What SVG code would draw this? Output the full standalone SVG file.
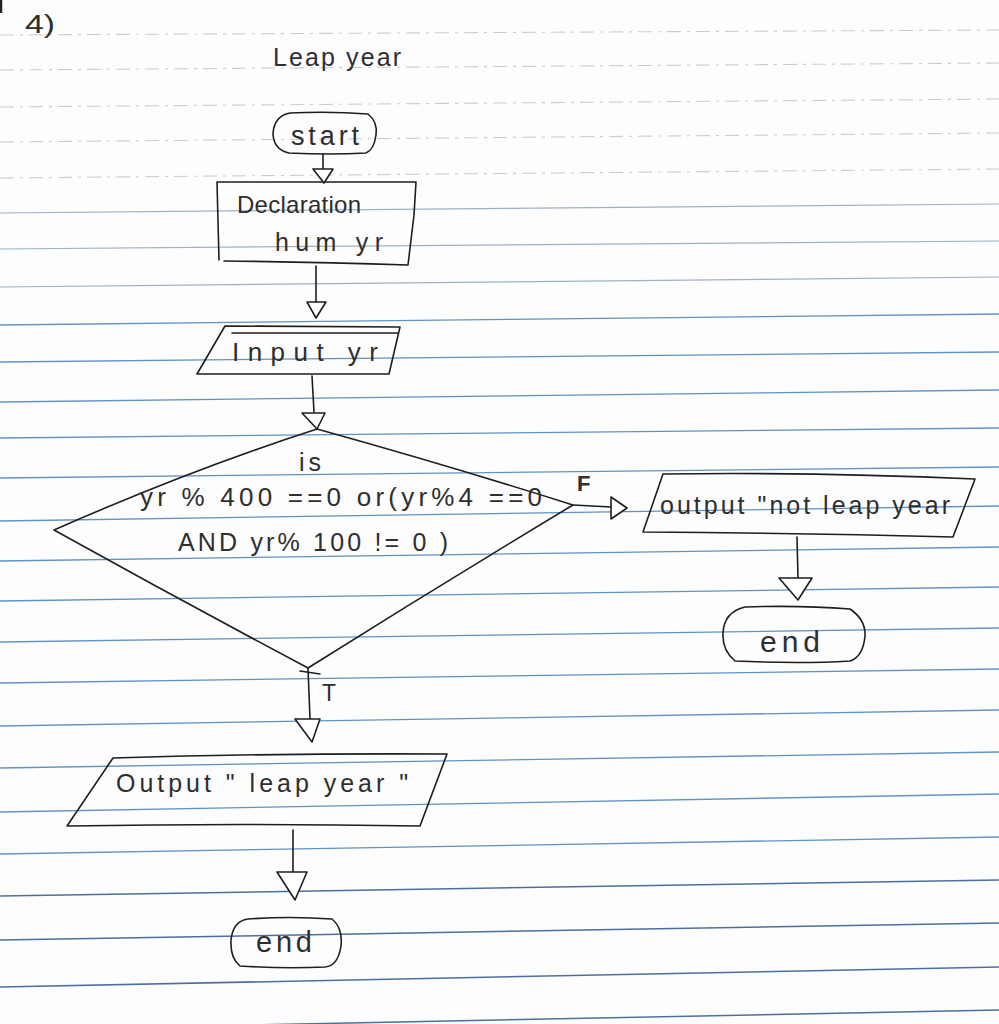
<svg xmlns="http://www.w3.org/2000/svg" width="999" height="1024" viewBox="0 0 999 1024">
<style>
.ink{fill:none;stroke:#1e1e1e;stroke-width:1.6;stroke-linecap:round;stroke-linejoin:round}
.head{fill:#fff;stroke:#1e1e1e;stroke-width:1.6;stroke-linejoin:round}
.txt{font-family:"Liberation Sans","DejaVu Sans",sans-serif;fill:#2e2e2e}
.faint{stroke:#c9cdd2;stroke-width:1.1;stroke-dasharray:14 6 3 6}
.grey{stroke:#9fb0c2;stroke-width:1.2}
.blue{stroke:#5f93c6;stroke-width:1.3}
.navy{stroke:#4a6f9e;stroke-width:1.5}
</style>
<rect x="0" y="0" width="999" height="1024" fill="#fdfdfd"/>
<g id="paper-lines">
<line class="faint" x1="0" y1="35" x2="999" y2="30"/>
<line class="faint" x1="0" y1="70" x2="999" y2="63"/>
<line class="faint" x1="0" y1="107" x2="999" y2="99"/>
<line class="faint" x1="0" y1="142" x2="999" y2="133"/>
<line class="faint" x1="0" y1="178" x2="999" y2="169"/>
<line class="grey" x1="0" y1="213" x2="999" y2="204"/>
<line class="grey" x1="0" y1="249" x2="999" y2="241"/>
<line class="grey" x1="0" y1="287" x2="999" y2="277"/>
<line class="blue" x1="0" y1="325" x2="999" y2="314"/>
<line class="blue" x1="0" y1="362" x2="999" y2="352"/>
<line class="blue" x1="0" y1="402" x2="999" y2="390"/>
<line class="blue" x1="0" y1="438" x2="999" y2="428"/>
<line class="blue" x1="0" y1="478" x2="999" y2="467"/>
<line class="blue" x1="0" y1="521" x2="999" y2="506"/>
<line class="blue" x1="0" y1="561" x2="999" y2="547"/>
<line class="blue" x1="0" y1="601" x2="999" y2="587"/>
<line class="blue" x1="0" y1="642" x2="999" y2="628"/>
<line class="blue" x1="0" y1="683" x2="999" y2="669"/>
<line class="blue" x1="0" y1="726" x2="999" y2="710"/>
<line class="blue" x1="0" y1="768" x2="999" y2="752"/>
<line class="blue" x1="0" y1="812" x2="999" y2="794"/>
<line class="blue" x1="0" y1="854" x2="999" y2="837"/>
<line class="navy" x1="0" y1="896" x2="999" y2="880"/>
<line class="navy" x1="0" y1="940" x2="999" y2="923"/>
<line class="navy" x1="0" y1="987" x2="999" y2="967"/>
<line class="navy" x1="0" y1="1030" x2="999" y2="1010"/>
</g>
<g id="header">
<line x1="1" y1="0" x2="1" y2="13" stroke="#222" stroke-width="2.5"/>
<text class="txt" x="25" y="33" font-size="26" textLength="30" lengthAdjust="spacingAndGlyphs">4)</text>
<text class="txt" x="273" y="66" font-size="25" textLength="128" lengthAdjust="spacing">Leap  year</text>
</g>
<g id="start">
<path class="ink" d="M290,113 Q330,111 368,114 Q378,122 376,135 Q374,150 366,153 Q330,155 289,153 Q274,150 273,134 Q274,116 290,113 Z"/>
<text class="txt" x="291" y="145" font-size="27" textLength="68" lengthAdjust="spacing">start</text>
</g>
<g id="declaration">
<path class="ink" d="M217,182 L416,182 M416,182 L414,215 L408,265 M408,265 Q320,262 224,261 M217,182 L219,260"/>
<text class="txt" x="237" y="213" font-size="24" textLength="124" lengthAdjust="spacing">Declaration</text>
<text class="txt" x="275" y="251" font-size="25" textLength="108" lengthAdjust="spacing">hum   yr</text>
</g>
<g id="input">
<path class="ink" d="M225,326 L400,327 L389,374 L197,374 Z M232,333 L398,333"/>
<text class="txt" x="232" y="361" font-size="26" textLength="146" lengthAdjust="spacing">Input   yr</text>
</g>
<g id="decision">
<path class="ink" d="M317,429 Q450,466 573,505 Q440,585 308,668 Q180,600 54,530 Q190,470 317,429 Z"/>
<text class="txt" x="299" y="471" font-size="25" textLength="22" lengthAdjust="spacing">is</text>
<text class="txt" x="140" y="506" font-size="26" textLength="402" lengthAdjust="spacing">yr % 400 ==0  or(yr%4 ==0</text>
<text class="txt" x="178" y="551" font-size="25" textLength="270" lengthAdjust="spacing">AND yr% 100 != 0 )</text>
</g>
<g id="output-not-leap">
<path class="ink" d="M663,474 Q820,472 975,479 L953,537 Q800,533 643,532 Z"/>
<text class="txt" x="660" y="514" font-size="25" textLength="290" lengthAdjust="spacing">output "not leap year</text>
</g>
<g id="end-right">
<path class="ink" d="M745,607 Q800,605 850,609 Q866,620 865,636 Q863,657 850,661 Q800,664 735,661 Q722,650 723,633 Q724,612 745,607 Z"/>
<text class="txt" x="760" y="652" font-size="30" textLength="60" lengthAdjust="spacing">end</text>
</g>
<g id="output-leap">
<path class="ink" d="M113,758 Q280,753 447,754 L420,826 Q240,823 67,826 Z"/>
<text class="txt" x="116" y="792" font-size="25" textLength="292" lengthAdjust="spacing">Output " leap year "</text>
</g>
<g id="end-bottom">
<path class="ink" d="M248,919 Q290,916 332,919 Q343,928 341,946 Q338,966 325,967 Q285,969 240,966 Q230,958 231,940 Q233,921 248,919 Z"/>
<text class="txt" x="256" y="952" font-size="29" textLength="56" lengthAdjust="spacing">end</text>
</g>
<g id="connectors">
<line class="ink" x1="323" y1="154" x2="323" y2="170"/>
<polygon class="head" points="313,169 333,169 324,183"/>
<line class="ink" x1="316" y1="266" x2="316" y2="302"/>
<polygon class="head" points="307,302 326,302 316,318"/>
<line class="ink" x1="312" y1="376" x2="314" y2="412"/>
<polygon class="head" points="302,413 325,413 317,429"/>
<line class="ink" x1="573" y1="505" x2="611" y2="507" stroke-width="2"/>
<polygon class="head" points="611,497 611,519 627,508"/>
<text class="txt" x="577" y="491" font-size="22" font-weight="bold">F</text>
<line class="ink" x1="797" y1="537" x2="798" y2="578"/>
<polygon class="head" points="779,578 812,578 798,600"/>
<line class="ink" x1="300" y1="671" x2="320" y2="674"/>
<line class="ink" x1="308" y1="668" x2="310" y2="719"/>
<polygon class="head" points="295,719 320,719 312,742"/>
<text class="txt" x="322" y="701" font-size="23">T</text>
<line class="ink" x1="293" y1="830" x2="293" y2="872"/>
<polygon class="head" points="277,872 307,872 295,900"/>
</g>
</svg>
